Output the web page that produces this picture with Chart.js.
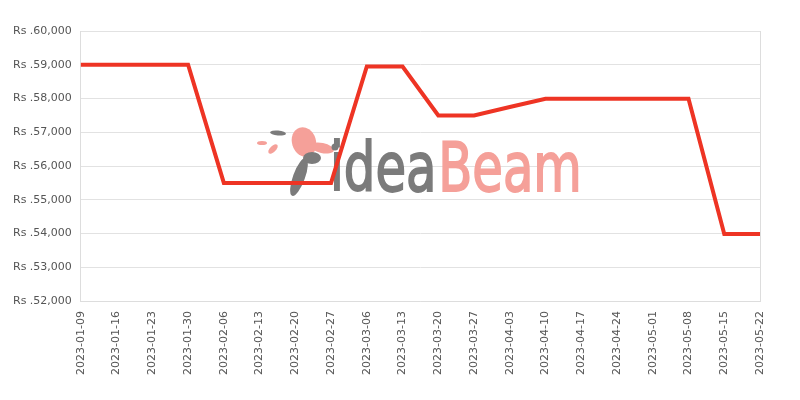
<!DOCTYPE html>
<html>
<head>
<meta charset="utf-8">
<script src="https://cdn.jsdelivr.net/npm/chart.js@4.4.0/dist/chart.umd.min.js"></script>
<style>
  html, body { margin: 0; padding: 0; background: #fff; }
  #wrap { width: 800px; height: 400px; }
</style>
</head>
<body>
<div id="wrap"><canvas id="priceChart"></canvas></div>
<script>
// weekly price data
const dates = ['2023-01-09', '2023-01-16', '2023-01-23', '2023-01-30', '2023-02-06', '2023-02-13',
  '2023-02-20', '2023-02-27', '2023-03-06', '2023-03-13', '2023-03-20', '2023-03-27',
  '2023-04-03', '2023-04-10', '2023-04-17', '2023-04-24', '2023-05-01', '2023-05-08',
  '2023-05-15', '2023-05-22'];
const prices = [59000, 59000, 59000, 59000, 55500, 55500, 55500, 55500, 58950, 58950,
  57500, 57500, 57750, 57990, 57990, 57990, 57990, 57990, 53990, 53990];
const yMin = 52000;
const yMax = 60000;
const yStep = 1000;

// watermark behind the line (logo text + rough bird)
const watermark = {
  id: 'watermark',
  beforeDatasetsDraw(chart) {
    const c = chart.ctx;
    c.save();
    // bird-ish shapes
    c.fillStyle = '#f5a099';
    c.beginPath(); c.ellipse(304, 142, 12, 15, -0.3, 0, Math.PI * 2); c.fill();
    c.beginPath(); c.ellipse(322, 148, 12, 5, 0.2, 0, Math.PI * 2); c.fill();
    c.beginPath(); c.ellipse(273, 149, 6, 3, -0.8, 0, Math.PI * 2); c.fill();
    c.beginPath(); c.ellipse(262, 143, 5, 2, 0, 0, Math.PI * 2); c.fill();
    c.fillStyle = '#7b7b7b';
    c.beginPath(); c.ellipse(278, 133, 8, 2.5, 0.1, 0, Math.PI * 2); c.fill();
    c.beginPath(); c.ellipse(299, 177, 6, 20, 0.35, 0, Math.PI * 2); c.fill();
    c.beginPath(); c.ellipse(312, 158, 9, 6, 0, 0, Math.PI * 2); c.fill();
    c.beginPath(); c.arc(335, 147, 3.5, 0, Math.PI * 2); c.fill();
    // logo text
    c.font = '62px "DejaVu Sans Condensed", "DejaVu Sans", sans-serif';
    c.textBaseline = 'alphabetic';
    c.lineWidth = 1.6;
    const a = c.measureText('idea').width;
    const b = c.measureText('Beam').width;
    const sx = 250 / (a + b);
    c.translate(330, 191);
    c.scale(sx, 1.1);
    c.fillStyle = c.strokeStyle = '#7b7b7b';
    c.fillText('idea', 0, 0);
    c.strokeText('idea', 0, 0);
    c.fillStyle = c.strokeStyle = '#f5a099';
    c.fillText('Beam', a + 2, 0);
    c.strokeText('Beam', a + 2, 0);
    c.restore();
  }
};

const ctx = document.getElementById('priceChart');
new Chart(ctx, {
  type: 'line',
  data: {
    labels: dates,
    datasets: [{
      data: prices,
      borderColor: '#ee3424',
      backgroundColor: '#ee3424',
      borderWidth: 4,
      pointRadius: 0,
      tension: 0,
      fill: false
    }]
  },
  options: {
    responsive: true,
    maintainAspectRatio: false,
    animation: false,
    layout: { padding: { top: 31, right: 40, left: 4, bottom: 15 } },
    plugins: {
      legend: { display: false },
      tooltip: { enabled: false }
    },
    scales: {
      x: {
        offset: false,
        grid: {
          color: (c) => c.index === dates.length - 1 ? '#dddddd' : 'rgba(0,0,0,0)',
          drawTicks: false
        },
        border: { color: '#dddddd' },
        ticks: {
          color: '#555',
          font: { family: '"DejaVu Sans", sans-serif', size: 11 },
          maxRotation: 90,
          minRotation: 90,
          autoSkip: false,
          padding: 10
        }
      },
      y: {
        min: yMin,
        max: yMax,
        grid: { color: '#e2e2e2', drawTicks: false },
        border: { color: '#dddddd' },
        ticks: {
          stepSize: yStep,
          color: '#555',
          font: { family: '"DejaVu Sans", sans-serif', size: 11 },
          padding: 9,
          callback: (v) => 'Rs .' + v.toLocaleString('en-US')
        }
      }
    }
  },
  plugins: [watermark]
});
</script>
</body>
</html>
